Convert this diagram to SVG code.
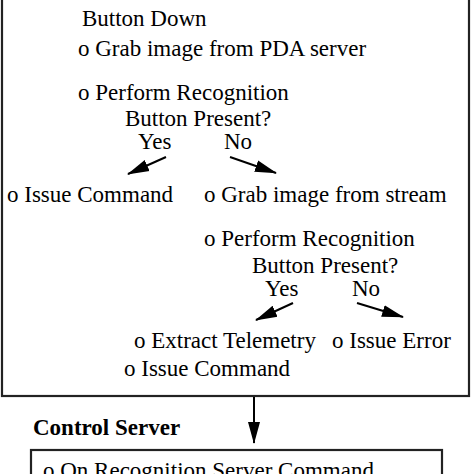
<svg xmlns="http://www.w3.org/2000/svg" width="474" height="474" viewBox="0 0 474 474">
<style>
text{font-family:"Liberation Serif","Times New Roman",serif;font-size:23px;fill:#000}
.b{font-weight:bold}
.box{fill:#fff;stroke:#222;stroke-width:2.2}
.c{stroke:#000;stroke-width:2;fill:none}
</style>
<defs>
<marker id="ah" markerUnits="userSpaceOnUse" markerWidth="22" markerHeight="14" viewBox="0 -7 22 14" refX="21" refY="0" orient="auto">
<path d="M0,-6 L22,0 L0,6 z" fill="#000"/>
</marker>
</defs>
<rect width="474" height="474" fill="#fff"/>
<g id="recognition-server">
<rect class="box" x="2" y="-10" width="467" height="406"/>
<text x="82" y="26">Button Down</text>
<text x="78" y="56">o Grab image from PDA server</text>
<text x="78" y="100">o Perform Recognition</text>
<text x="125" y="126">Button Present?</text>
<text x="138" y="149">Yes</text>
<text x="224" y="149">No</text>
<text x="7" y="202">o Issue Command</text>
<text x="204" y="202">o Grab image from stream</text>
<text x="204" y="246">o Perform Recognition</text>
<text x="252" y="273">Button Present?</text>
<text x="265" y="296">Yes</text>
<text x="352" y="296">No</text>
<text x="134" y="348">o Extract Telemetry</text>
<text x="332" y="348">o Issue Error</text>
<text x="124" y="376">o Issue Command</text>
</g>
<g id="control-server">
<text class="b" x="33" y="435">Control Server</text>
<rect class="box" x="31" y="450" width="411" height="40"/>
<text x="43" y="478">o On Recognition Server Command</text>
</g>
<g id="connectors">
<line class="c" x1="166" y1="157" x2="128" y2="174" marker-end="url(#ah)"/>
<line class="c" x1="230" y1="157" x2="276" y2="173" marker-end="url(#ah)"/>
<line class="c" x1="293" y1="303" x2="256" y2="320" marker-end="url(#ah)"/>
<line class="c" x1="357" y1="303" x2="403" y2="317" marker-end="url(#ah)"/>
<line class="c" x1="254" y1="397" x2="254" y2="443" marker-end="url(#ah)"/>
</g>
</svg>
